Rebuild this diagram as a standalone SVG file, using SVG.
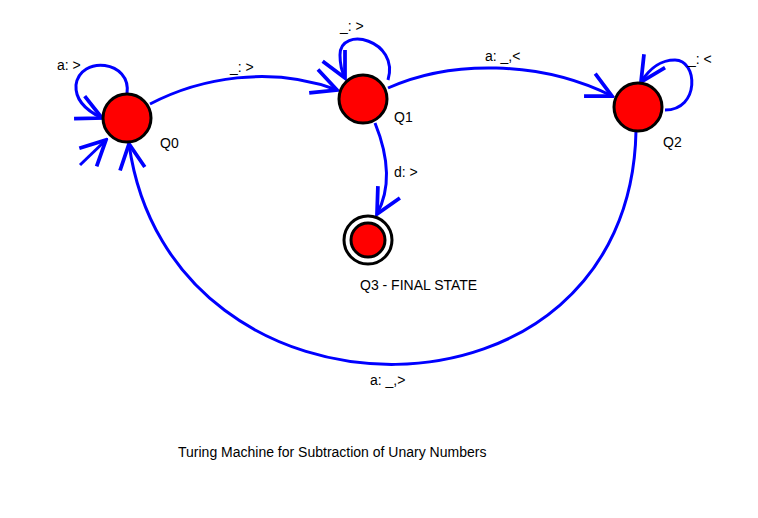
<svg xmlns="http://www.w3.org/2000/svg" width="758" height="518" viewBox="0 0 758 518">
<style>
.e{fill:none;stroke:#0000ff;stroke-width:3;marker-end:url(#ah)}
.n{fill:#ff0000;stroke:#000;stroke-width:3}
text{font-family:"Liberation Sans",Arial,sans-serif;font-size:14px;fill:#000}
</style>
<defs>
<marker id="ah" markerUnits="userSpaceOnUse" markerWidth="30" markerHeight="30" refX="22" refY="12" orient="auto" viewBox="0 0 24 24">
<path d="M2,2 L22,12 L2,22" fill="none" stroke="#0000ff" stroke-width="3"/>
</marker>
</defs>
<rect width="758" height="518" fill="#fff"/>
<g id="connectors">
<path class="e" d="M80,165 L106,140"/>
<path class="e" d="M127,94 C132,60 80,55 76,85 C75,100 85,110 102,118"/>
<path class="e" d="M150,104 C200,78 270,65 337,90"/>
<path class="e" d="M388,80 C400,40 340,25 340,55 C340,65 342,72 345,78"/>
<path class="e" d="M388,88 C450,60 540,60 612,96"/>
<path class="e" d="M665,110 C700,110 698,60 675,60 C660,60 650,68 641,82"/>
<path class="e" d="M375,123 C390,160 390,190 377,214"/>
<path class="e" d="M636,131 C630,440 170,440 129,144"/>
</g>
<g id="Q0"><circle class="n" cx="127" cy="118" r="24"/><text x="160" y="148">Q0</text></g>
<g id="Q1"><circle class="n" cx="363" cy="99" r="24"/><text x="394" y="122">Q1</text></g>
<g id="Q2"><circle class="n" cx="638" cy="107" r="24"/><text x="663" y="147">Q2</text></g>
<g id="Q3"><circle cx="368" cy="240" r="24" fill="none" stroke="#000" stroke-width="3"/><circle class="n" cx="368" cy="240" r="17"/><text x="360" y="290">Q3 - FINAL STATE</text></g>
<g id="labels">
<text x="57" y="70">a: &gt;</text>
<text x="230" y="72">_: &gt;</text>
<text x="340" y="31">_: &gt;</text>
<text x="485" y="61">a: _,&lt;</text>
<text x="688" y="64">_: &lt;</text>
<text x="394" y="177">d: &gt;</text>
<text x="370" y="385">a: _,&gt;</text>
<text x="178" y="457">Turing Machine for Subtraction of Unary Numbers</text>
</g>
</svg>
